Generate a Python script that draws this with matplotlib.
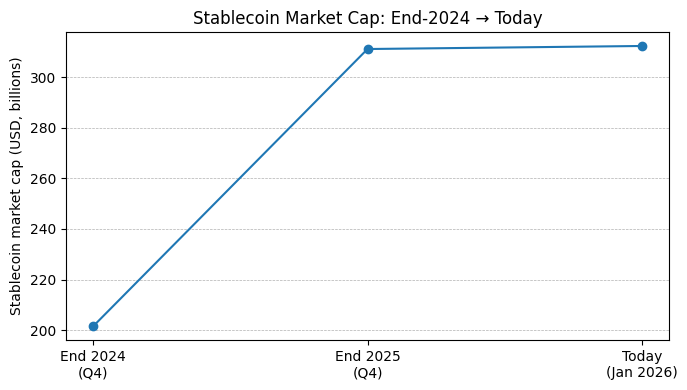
import matplotlib
matplotlib.use("Agg")
import matplotlib.pyplot as plt

labels = ["End 2024\n(Q4)", "End 2025\n(Q4)", "Today\n(Jan 2026)"]
market_cap = [201.6, 311.1, 312.3]  # USD billions

fig, ax = plt.subplots(figsize=(6.87, 3.9), dpi=100)
x = list(range(len(labels)))
ax.plot(x, market_cap, marker='o')
ax.set_xticks(x)
ax.set_xticklabels(labels)
ax.set_ylabel("Stablecoin market cap (USD, billions)")
ax.set_title("Stablecoin Market Cap: End-2024 \u2192 Today")
ax.grid(axis='y', linestyle='--', linewidth=0.5)
fig.subplots_adjust(left=0.096, right=0.974, top=0.918, bottom=0.128)
fig.savefig("out.png")
